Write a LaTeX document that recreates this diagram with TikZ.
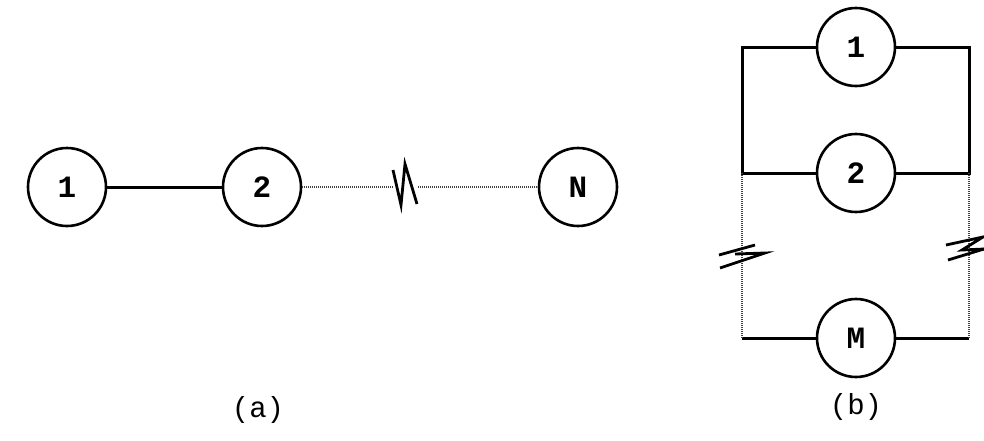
\documentclass[tikz,border=0pt]{standalone}
\usepackage{fontspec}
\setmonofont{Liberation Mono}
\begin{document}
\begin{tikzpicture}[x=1pt,y=-1pt,
  unit/.style={circle,draw,line width=2.6pt,minimum size=78pt,inner sep=0pt,font=\ttfamily\bfseries\fontsize{31}{33}\selectfont},
  wire/.style={line width=3pt},
  dotwire/.style={line width=1.6pt,black!75,dash pattern=on 1pt off 1pt},
  brk/.style={line width=2.8pt,line join=miter},
  captext/.style={font=\ttfamily\fontsize{29}{31}\selectfont}]
\useasboundingbox (0,0) rectangle (984,440);
% (a)
\node[unit] (a1) at (67,187) {1};
\node[unit] (a2) at (262,187) {2};
\node[unit] (aN) at (578,187) {N};
\coordinate (ab1) at (393,187);
\coordinate (ab2) at (418,187);
\draw[wire] (a1) -- (a2);
\draw[dotwire] (a2) -- (ab1);
\draw[dotwire] (ab2) -- (aN);
\draw[brk] (393,170) -- (401,205) -- (405,164) -- (417,204);
\node[captext] (la) at (258,410) {(a)};
% (b)
\node[unit] (b1) at (856,47) {1};
\node[unit] (b2) at (856,173) {2};
\node[unit] (bM) at (856,338) {M};
\coordinate (tl) at (742,47);
\coordinate (tr) at (969,47);
\coordinate (ml) at (742,173);
\coordinate (mr) at (969,173);
\coordinate (bl) at (742,338);
\coordinate (br) at (969,338);
\draw[wire] (b1) -- (tl) -- (ml) -- (b2) -- (mr) -- (tr) -- (b1);
\draw[wire] (bl) -- (bM) -- (br);
\draw[dotwire] (ml) -- (bl);
\draw[dotwire] (mr) -- (br);
\draw[brk] (719,255) -- (755,245);
\draw[brk] (735,254) -- (765,253) -- (720,268);
\draw[brk] (946,245) -- (983,237) -- (962,250) -- (984,249);
\draw[brk] (948,260) -- (984,249);
\node[captext] (lb) at (856,407) {(b)};
\end{tikzpicture}
\end{document}
